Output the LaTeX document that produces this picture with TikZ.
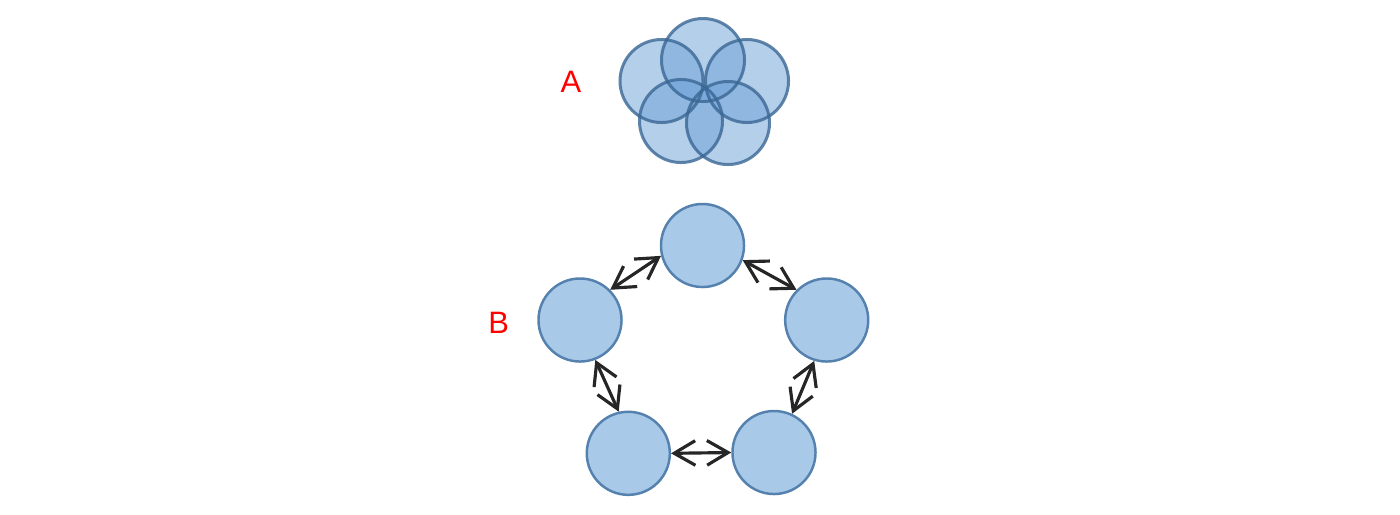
\documentclass[tikz,border=0pt]{standalone}
\usepackage{fontspec}
\setmainfont{Liberation Sans}
\usetikzlibrary{arrows.meta}
\definecolor{afill}{HTML}{6A9FD6}
\definecolor{aline}{HTML}{3A6794}
\definecolor{bfill}{HTML}{A9C9E9}
\definecolor{bline}{HTML}{5581AE}
\definecolor{lblred}{HTML}{FF0000}
\tikzset{
  acirc/.style={circle, fill=afill, fill opacity=0.5, minimum size=0.83cm, inner sep=0pt},
  aring/.style={draw=aline, line width=0.85pt, draw opacity=0.8},
  bcirc/.style={circle, draw=bline, line width=0.7pt, fill=bfill, minimum size=0.83cm, inner sep=0pt},
  link/.style={line width=0.9pt, black!85, {Straight Barb[length=6pt,width=7pt]}-{Straight Barb[length=6pt,width=7pt]}},
  lbl/.style={text=lblred, font=\fontsize{8.8}{10}\selectfont, inner sep=0pt}
}
\begin{document}
\begin{tikzpicture}[x=0.01cm,y=-0.01cm]
\useasboundingbox (0,0) rectangle (1400,514);
% A cluster
\node[acirc] (a1) at (703,60) {};
\node[acirc] (a2) at (747,81) {};
\node[acirc] (a3) at (661.5,81) {};
\node[acirc] (a4) at (681,121) {};
\node[acirc] (a5) at (728,123) {};
\foreach \n in {a1,a2,a3,a4,a5} \draw[aring] (\n.center) circle (0.415cm);
\node[lbl] (la) at (571,81.7) {A};
% B ring
\node[bcirc] (t) at (702.5,245.5) {};
\node[bcirc] (l) at (580,320) {};
\node[bcirc] (r) at (826.7,320) {};
\node[bcirc] (bl) at (628.3,453.3) {};
\node[bcirc] (br) at (774,452.5) {};
\node[lbl] (lb) at (498.8,322.5) {B};
\draw[link] (l.45) -- (t.194);
\draw[link] (t.340) -- (r.135);
\draw[link] (l.291) -- (bl.103);
\draw[link] (r.253) -- (br.65);
\draw[link] (bl.east) -- (br.west);
\end{tikzpicture}
\end{document}
